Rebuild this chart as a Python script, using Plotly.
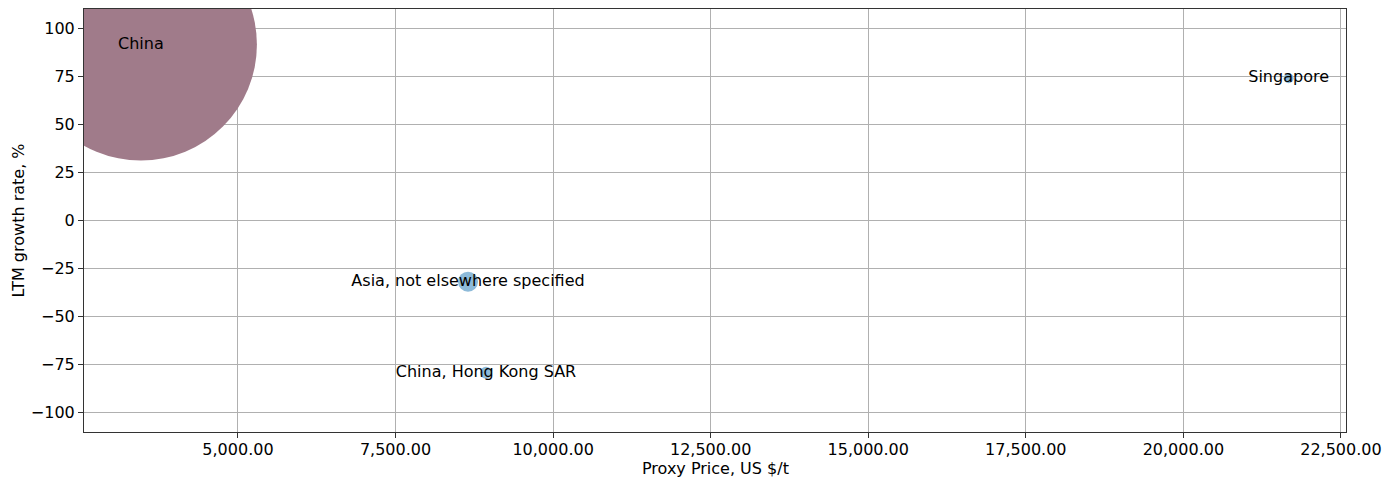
import plotly.graph_objects as go

countries = ["China", "Asia, not elsewhere specified", "China, Hong Kong SAR", "Singapore"]
proxy_price = [3460, 8650, 8935, 21670]
growth_rate = [91.5, -31.8, -79.2, 74.0]
bubble_size = [232, 20, 12, 10]
bubble_color = ["#a07b8a", "#8dbad9", "#8dbad9", "#8dbad9"]

FONT = "DejaVu Sans"

fig = go.Figure()
fig.add_trace(go.Scatter(
    x=proxy_price, y=growth_rate, mode="markers+text",
    text=countries, textposition="middle center",
    textfont=dict(family=FONT, size=16, color="black"),
    marker=dict(size=bubble_size, sizemode="diameter", color=bubble_color, line=dict(width=0), opacity=1),
    cliponaxis=True, showlegend=False,
))

axis_common = dict(
    showgrid=True, gridcolor="#b0b0b0", gridwidth=1,
    showline=True, linecolor="#333333", linewidth=1, mirror=True,
    ticks="outside", ticklen=5, tickcolor="#333333",
    tickfont=dict(family=FONT, size=16, color="black"),
    zeroline=False, automargin=False,
)
fig.update_xaxes(range=[2557, 22580], tickvals=[5000, 7500, 10000, 12500, 15000, 17500, 20000, 22500],
                 tickformat=",.2f", ticklabelstandoff=-2, **axis_common)
fig.update_yaxes(range=[-110, 110], tickvals=[-100, -75, -50, -25, 0, 25, 50, 75, 100],
                 **axis_common)
fig.update_layout(
    width=1391, height=469,
    margin=dict(l=76, r=53, t=1, b=45, autoexpand=False),
    plot_bgcolor="white", paper_bgcolor="white",
    font=dict(family=FONT),
    annotations=[
        dict(text="Proxy Price, US $/t", xref="paper", yref="paper", x=0.5, y=0, yshift=-36,
             xanchor="center", yanchor="middle", showarrow=False,
             font=dict(family=FONT, size=16, color="black")),
        dict(text="LTM growth rate, %", xref="paper", yref="paper", x=0, y=0.5, xshift=-66,
             xanchor="center", yanchor="middle", textangle=-90, showarrow=False,
             font=dict(family=FONT, size=16, color="black")),
    ],
)
fig.write_html("out.html")
